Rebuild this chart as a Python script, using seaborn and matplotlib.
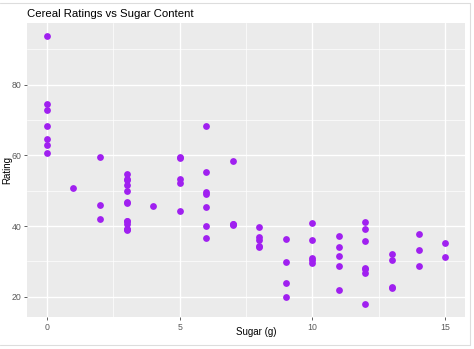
import matplotlib
matplotlib.use("Agg")
import matplotlib.pyplot as plt
import seaborn as sns
import pandas as pd

# Sugar (g) and rating for each cereal
sugars = [6, 8, 5, 0, 8, 10, 14, 8, 6, 5, 12, 1, 9, 7, 13, 3, 2, 12, 13, 7,
          0, 3, 10, 5, 13, 11, 7, 10, 12, 12, 15, 9, 5, 3, 4, 11, 10, 11, 6, 9,
          3, 6, 12, 3, 11, 11, 13, 6, 9, 7, 2, 10, 14, 3, 0, 0, 6, 12, 8,
          6, 2, 3, 0, 0, 0, 15, 3, 5, 3, 14, 3, 3, 12, 3, 3, 8]
ratings = [68.40, 33.98, 59.43, 93.70, 34.38, 29.51, 33.17, 37.04, 49.12, 53.31,
           18.04, 50.76, 19.82, 40.40, 22.74, 41.45, 45.86, 35.78, 22.40, 40.45,
           64.53, 46.90, 36.18, 44.33, 32.21, 31.44, 58.35, 40.92, 41.02, 28.03,
           35.25, 23.80, 52.08, 53.37, 45.81, 21.87, 31.07, 28.74, 36.52, 36.47,
           39.24, 45.33, 26.73, 54.85, 37.14, 34.14, 30.31, 40.11, 29.92, 40.69,
           59.64, 30.45, 37.84, 41.50, 60.76, 63.01, 49.51, 39.26, 39.70,
           55.33, 42.00, 40.56, 68.24, 74.47, 72.80, 31.23, 53.13, 59.36, 38.84,
           28.59, 46.66, 39.11, 27.75, 49.79, 51.59, 36.19]

df = pd.DataFrame({"Sugar (g)": sugars, "Rating": ratings})

x_ticks = [0, 5, 10, 15]
y_ticks = [20, 40, 60, 80]

sns.set_theme(style="darkgrid")
plt.rcParams["font.family"] = ["Liberation Sans", "DejaVu Sans"]

fig = plt.figure(figsize=(4.74, 3.49), dpi=100)
ax = fig.add_axes([27 / 474, 1 - 317 / 349, 438 / 474, 294 / 349])
ax.set_facecolor("#EBEBEB")

sns.scatterplot(data=df, x="Sugar (g)", y="Rating", color="#A020F0",
                s=24, linewidth=0, ax=ax, zorder=3)

xmin, xmax = min(sugars), max(sugars)
ymin, ymax = min(ratings), max(ratings)
xpad = (xmax - xmin) * 0.05
ypad = (ymax - ymin) * 0.05
ax.set_xlim(xmin - xpad, xmax + xpad)
ax.set_ylim(ymin - ypad, ymax + ypad)

ax.set_xticks(x_ticks)
ax.set_yticks(y_ticks)
ax.set_xticks([2.5, 7.5, 12.5], minor=True)
ax.set_yticks([30, 50, 70, 90], minor=True)
ax.grid(which="major", color="white", linewidth=1.0)
ax.grid(which="minor", color="white", linewidth=0.5)
ax.set_axisbelow(True)
for sp in ax.spines.values():
    sp.set_visible(False)

ax.tick_params(axis="both", which="major", labelsize=6.3, labelcolor="#5A5A5A",
               color="#444444", length=2.5, width=0.6, pad=1.5, bottom=True, left=True)
ax.tick_params(axis="both", which="minor", length=0)

ax.set_xlabel("Sugar (g)", fontsize=7, color="black")
ax.set_ylabel("Rating", fontsize=7, color="black")
ax.xaxis.set_label_coords(0.5 + 10 / 438, -15 / 294)
ax.yaxis.set_label_coords(-20 / 438, 0.5)
ax.xaxis.label.set_va("center")
ax.yaxis.label.set_va("center")
fig.text(27 / 474, 1 - 14 / 349, "Cereal Ratings vs Sugar Content",
         fontsize=8.2, color="black", ha="left", va="center")

# thin frame around the plotting device
fig.add_artist(plt.Line2D([0, 470 / 474], [1 - 3 / 349, 1 - 3 / 349],
                          color="#DDDDDD", linewidth=0.8))
fig.add_artist(plt.Line2D([470 / 474, 470 / 474], [1 - 3 / 349, 1 - 345 / 349],
                          color="#DDDDDD", linewidth=0.8))
fig.add_artist(plt.Line2D([0, 470 / 474], [1 - 345 / 349, 1 - 345 / 349],
                          color="#DDDDDD", linewidth=0.8))

fig.savefig("out.png", dpi=100, facecolor="white")
